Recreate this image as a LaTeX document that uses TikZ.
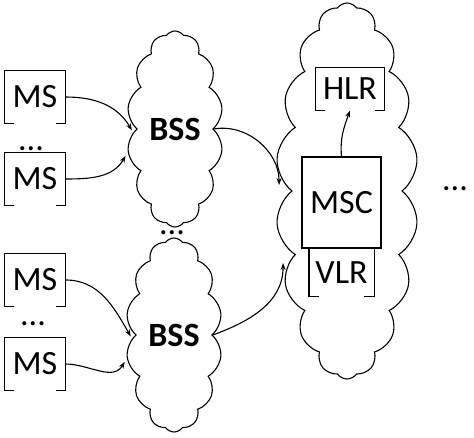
\documentclass[tikz,border=0pt]{standalone}
\usepackage{fontspec}
\setmainfont{Carlito}
\usetikzlibrary{positioning}
\usetikzlibrary{arrows.meta}
\usetikzlibrary{shapes.symbols}

\tikzset{
  unit/.style={minimum width=60pt, minimum height=52pt, inner sep=0pt, font=\fontsize{34}{36}\selectfont},
  net/.style={cloud, draw, cloud puffs=14, cloud puff arc=110, cloud ignores aspect, inner sep=0pt, font=\fontsize{34}{36}\selectfont\bfseries},
  more/.style={anchor=base, inner sep=0pt, font=\fontsize{34}{36}\selectfont},
  link/.style={draw, -{Stealth[length=7pt,width=5pt]}},
}
\newcommand{\openbox}[1]{\path[draw] ([xshift=10pt]#1.south west) -- (#1.south west) -- (#1.north west) -- (#1.north east) -- (#1.south east) -- ([xshift=-10pt]#1.south east);}

\begin{document}
\begin{tikzpicture}[x=1pt, y=-1pt, line width=1.1pt]
    \useasboundingbox (0,0) rectangle (474,438);
    % mobile stations
    \node[unit] (ms1) at (35,97) {MS};
    \node[unit] (ms2) at (35,179) {MS};
    \node[unit] (ms3) at (35,280) {MS};
    \node[unit] (ms4) at (35,364) {MS};
    \node[more] (d1) at (31,151) {...};
    \node[more] (d2) at (33,326) {...};
    \openbox{ms1}
    \openbox{ms2}
    \openbox{ms3}
    \openbox{ms4}
    % base station subsystems
    \node[net, minimum width=96pt, minimum height=196pt] (bss1) at (175,129) {BSS};
    \node[net, minimum width=96pt, minimum height=194pt] (bss2) at (174,335) {BSS};
    \node[more] (d3) at (172,235) {...};
    % core network
    \node[net, cloud puffs=18, minimum width=142pt, minimum height=376pt] (core) at (347,191) {};
    \node[unit, minimum width=68pt, minimum height=42pt] (hlr) at (350,89) {HLR};
    \node[unit, draw, minimum width=79pt, minimum height=91pt] (msc) at (341.5,202.5) {MSC};
    \node[unit, minimum width=64pt, minimum height=47pt, below = 0pt of msc] (vlr) {VLR};
    \openbox{hlr}
    \openbox{vlr}
    \node[more] (d4) at (455,191) {...};
    % links
    \path[link] (ms1.east) to[out=0, in=120] ([xshift=-3pt]bss1.182);
    \path[link] (ms2.east) to[out=0, in=-120] ([xshift=-3pt]bss1.210);
    \path[link] (ms3.east) to[out=0, in=120] ([xshift=-3pt]bss2.182);
    \path[link] (ms4.east) to[out=0, in=-120] ([xshift=-3pt]bss2.210);
    \path[link] (bss1.0) to[out=10, in=90] ([xshift=-12pt,yshift=6pt]core.west);
    \path[link] (bss2.0) to[out=20, in=-90] ([xshift=-8pt,yshift=-72pt]core.west);
    \path[link] (msc.north) to[out=95, in=-110] (hlr.south);
\end{tikzpicture}
\end{document}
